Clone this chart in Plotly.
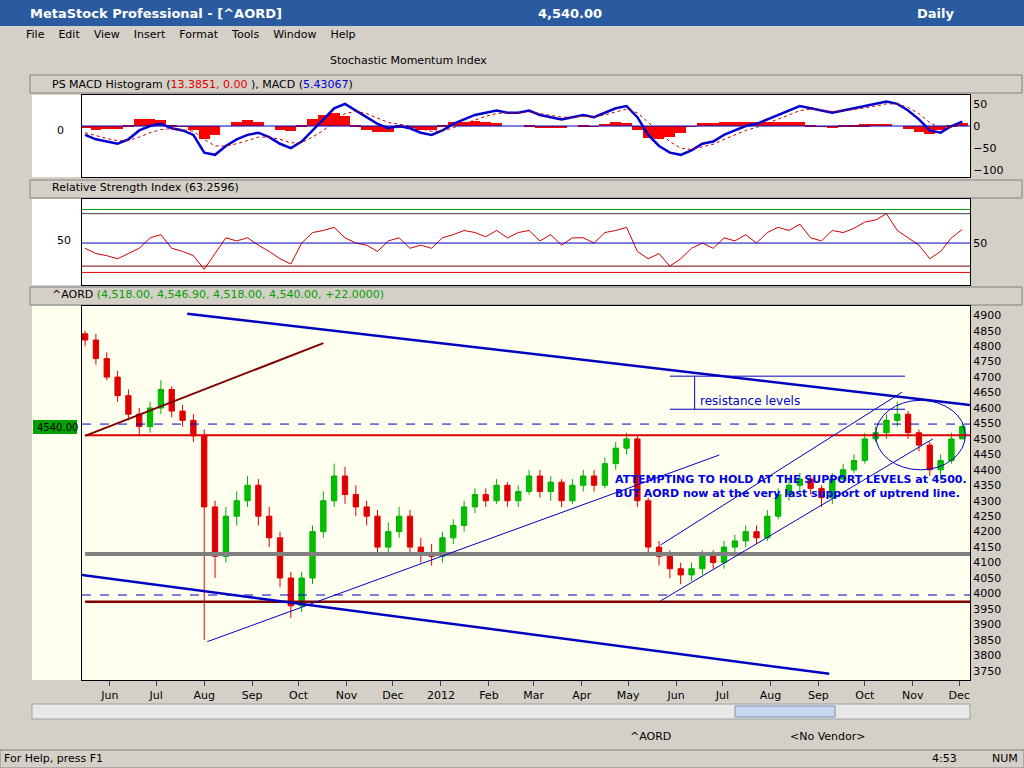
import plotly.graph_objects as go
import pandas as pd

# weekly bars, ^AORD, May 2011 - Dec 2012
weeks = pd.date_range('2011-05-16', periods=82, freq='7D')

opens = [4840, 4820, 4760, 4700, 4640, 4580, 4540, 4600, 4660, 4590, 4560,
         4510, 4280, 4120, 4250, 4300, 4350, 4250, 4180, 4050, 3960, 4050, 4200, 4300, 4380,
         4320, 4280, 4250, 4150, 4200, 4250, 4150, 4130, 4120, 4180, 4220, 4280, 4320,
         4300, 4350, 4300, 4330, 4380, 4330, 4360, 4300, 4350, 4380, 4350, 4420, 4470,
         4500, 4300, 4150, 4120, 4080, 4060, 4080, 4120, 4100, 4150, 4170, 4200, 4180,
         4250, 4320, 4350, 4370, 4340, 4310, 4370, 4400, 4430, 4500, 4520, 4560, 4580,
         4520, 4480, 4400, 4430, 4500]
highs = [4850, 4840, 4780, 4720, 4660, 4600, 4620, 4690, 4670, 4610, 4580,
         4530, 4300, 4280, 4330, 4380, 4370, 4280, 4200, 4070, 4070, 4220, 4330, 4420, 4410,
         4350, 4300, 4270, 4230, 4280, 4270, 4180, 4160, 4200, 4240, 4300, 4340, 4340,
         4370, 4360, 4350, 4400, 4400, 4380, 4370, 4370, 4400, 4400, 4440, 4490, 4520,
         4510, 4310, 4170, 4140, 4100, 4100, 4140, 4140, 4170, 4190, 4220, 4220, 4270,
         4340, 4370, 4390, 4380, 4350, 4390, 4420, 4450, 4520, 4540, 4580, 4620, 4590,
         4530, 4490, 4450, 4520, 4550]
lows = [4800, 4740, 4690, 4620, 4560, 4510, 4520, 4580, 4570, 4540, 4490,
        3850, 4050, 4100, 4220, 4280, 4220, 4150, 4020, 3920, 3940, 4030, 4180, 4280, 4290,
        4250, 4220, 4130, 4130, 4180, 4130, 4100, 4090, 4100, 4160, 4200, 4260, 4280,
        4290, 4280, 4280, 4320, 4310, 4300, 4280, 4290, 4330, 4330, 4340, 4400, 4450,
        4280, 4130, 4090, 4050, 4030, 4040, 4060, 4080, 4080, 4130, 4150, 4160, 4170,
        4240, 4300, 4330, 4320, 4280, 4290, 4360, 4390, 4420, 4490, 4500, 4540, 4500,
        4460, 4380, 4370, 4420, 4500]
closes = [4820, 4760, 4700, 4640, 4580, 4540, 4600, 4660, 4590, 4560, 4510,
          4280, 4120, 4250, 4300, 4350, 4250, 4180, 4050, 3960, 4050, 4200, 4300, 4380, 4320,
          4280, 4250, 4150, 4200, 4250, 4150, 4130, 4120, 4180, 4220, 4280, 4320, 4300,
          4350, 4300, 4330, 4380, 4330, 4360, 4300, 4350, 4380, 4350, 4420, 4470, 4500,
          4300, 4150, 4120, 4080, 4060, 4080, 4120, 4100, 4150, 4170, 4200, 4180, 4250,
          4320, 4350, 4370, 4340, 4310, 4370, 4400, 4430, 4500, 4520, 4560, 4580, 4520,
          4480, 4400, 4430, 4500, 4540]

macd = [-20, -30, -35, -40, -30, -10, 0, 5, -5, -10, -20, -60, -65, -45, -30, -20,
        -15, -25, -40, -50, -35, -10, 15, 40, 50, 35, 20, 5, -5, 0, -5, -15, -20,
        -10, 5, 15, 25, 30, 35, 30, 30, 35, 25, 20, 15, 20, 25, 20, 30, 40, 45,
        20, -20, -45, -60, -65, -55, -40, -35, -20, -10, 0, 5, 15, 25, 35, 45, 40,
        35, 30, 35, 40, 45, 50, 55, 50, 35, 15, -10, -15, 0, 10]
signal = [-15, -22, -28, -33, -33, -25, -15, -8, -6, -8, -12, -30, -45, -45, -40, -33,
          -25, -25, -30, -38, -37, -25, -10, 10, 28, 33, 28, 18, 8, 4, 0, -6, -12,
          -11, -4, 5, 13, 22, 28, 30, 30, 32, 28, 24, 20, 20, 22, 21, 25, 32, 38,
          30, 8, -15, -35, -50, -53, -47, -41, -30, -20, -10, -3, 6, 15, 25, 35, 38,
          36, 33, 34, 37, 41, 45, 50, 50, 42, 28, 8, -5, -3, 4]
hist = [-5, -8, -7, -7, 3, 15, 15, 13, 1, -2, -8, -30, -20, 0, 10, 13,
        10, 0, -10, -12, 2, 15, 25, 30, 22, 2, -8, -13, -13, -4, -5, -9, -8,
        1, 9, 10, 12, 8, 7, 0, 0, 3, -3, -4, -5, 0, 3, -1, 5, 8, 7,
        -10, -28, -30, -25, -15, -2, 7, 6, 10, 10, 10, 8, 9, 10, 10, 10, 2,
        -1, -3, 1, 3, 4, 5, 5, 0, -7, -13, -18, -10, 3, 6]
rsi = [45, 40, 38, 35, 40, 45, 55, 58, 45, 42, 38, 25, 40, 55, 52, 55,
       48, 42, 35, 30, 50, 60, 62, 65, 55, 50, 48, 42, 52, 55, 45, 48, 45,
       55, 58, 62, 60, 56, 62, 55, 60, 62, 52, 58, 48, 55, 55, 50, 60, 62, 65,
       42, 35, 40, 28, 35, 45, 50, 45, 55, 52, 58, 50, 60, 65, 62, 68, 55,
       52, 62, 60, 64, 70, 72, 78, 62, 55, 48, 35, 42, 55, 63]
rsi_levels = [82, 78, 50, 28, 22]
rsi_level_colors = ['#00a000', '#404040', '#0000c0', '#800000', '#e00000']

month_ticks = pd.date_range('2011-06-01', '2012-12-01', freq='MS')
month_labels = ['Jun', 'Jul', 'Aug', 'Sep', 'Oct', 'Nov', 'Dec', '2012', 'Feb', 'Mar', 'Apr',
                'May', 'Jun', 'Jul', 'Aug', 'Sep', 'Oct', 'Nov', 'Dec']

# user drawn trendlines: (date0, price0, date1, price1, colour, width)
trendlines = [
    ('2011-07-21', 4905, '2012-12-08', 4610, '#0000c0', 2.5),
    ('2011-05-14', 4060, '2012-09-08', 3740, '#0000c0', 2.5),
    ('2011-05-16', 4510, '2011-10-17', 4810, '#800000', 2),
    ('2011-08-03', 3844, '2012-06-29', 4448, '#0000c0', 1),
    ('2012-05-22', 3976, '2012-11-14', 4500, '#0000c0', 1),
    ('2012-05-22', 4157, '2012-10-25', 4651, '#0000c0', 1),
    ('2012-05-28', 4703, '2012-10-27', 4703, '#0000c0', 1),
    ('2012-05-28', 4596, '2012-10-27', 4596, '#0000c0', 1),
    ('2012-06-13', 4703, '2012-06-13', 4596, '#0000c0', 1),
]
hlines = [(4512, '#e00000', 2), (4128, '#808080', 4), (3973, '#800000', 2.5)]
dotted = [4548, 3995]

W, H = 1024, 768


def px(x, y):
    return x / W, 1 - y / H


fig = go.Figure()
fig.add_trace(go.Bar(x=weeks, y=hist, marker_color='#ff0000', marker_line_width=0,
                     xaxis='x', yaxis='y'))
fig.add_trace(go.Scatter(x=weeks, y=macd, mode='lines', line=dict(color='#0000d0', width=2.5),
                         xaxis='x', yaxis='y'))
fig.add_trace(go.Scatter(x=weeks, y=signal, mode='lines', line=dict(color='#c00000', width=1, dash='dot'),
                         xaxis='x', yaxis='y'))
fig.add_trace(go.Scatter(x=weeks, y=rsi, mode='lines', line=dict(color='#d00000', width=1),
                         xaxis='x2', yaxis='y2'))
fig.add_trace(go.Candlestick(x=weeks, open=opens, high=highs, low=lows, close=closes,
                             increasing=dict(line=dict(color='#00b000', width=1), fillcolor='#00c000'),
                             decreasing=dict(line=dict(color='#e00000', width=1), fillcolor='#e00000'),
                             xaxis='x3', yaxis='y3'))

xr = ['2011-05-14', '2012-12-08']
x0, _ = px(82, 0)
x1, _ = px(970, 0)
common_x = dict(range=xr, showgrid=False, zeroline=False, showticklabels=False,
                domain=[x0, x1], showline=True, linecolor='black', mirror=True)
fig.update_layout(
    width=W, height=H, margin=dict(l=0, r=0, t=0, b=0),
    paper_bgcolor='#d4d0c8', plot_bgcolor='white', showlegend=False, bargap=0,
    font=dict(family='DejaVu Sans', size=11, color='black'),
    xaxis=dict(**common_x, anchor='y'),
    xaxis2=dict(**common_x, anchor='y2'),
    xaxis3=dict(**{**common_x, 'showticklabels': True}, anchor='y3', rangeslider=dict(visible=False),
                tickvals=month_ticks, ticktext=month_labels, ticks='outside', tickfont=dict(size=11)),
    yaxis=dict(domain=[px(0, 177)[1], px(0, 95)[1]], range=[-115, 70], side='right',
               tickvals=[50, 0, -50, -100], showgrid=False, zeroline=False,
               showline=True, linecolor='black', mirror=True),
    yaxis2=dict(domain=[px(0, 285)[1], px(0, 199)[1]], range=[10, 92], side='right',
                tickvals=[50], showgrid=False, zeroline=False,
                showline=True, linecolor='black', mirror=True),
    yaxis3=dict(domain=[px(0, 680)[1], px(0, 306)[1]], range=[3720, 4930], side='right',
                tickvals=list(range(3750, 4901, 50)), showgrid=False, zeroline=False,
                showline=True, linecolor='black', mirror=True, tickfont=dict(size=11)),
)

shapes = []
# price panel background
shapes.append(dict(type='rect', xref='x3 domain', yref='y3 domain', x0=0, x1=1, y0=0, y1=1,
                   fillcolor='#fffff0', line_width=0, layer='below'))
shapes.append(dict(type='line', xref='x domain', yref='y', x0=0, x1=1, y0=0, y1=0,
                   line=dict(color='#0000c0', width=1)))
for lv, col in zip(rsi_levels, rsi_level_colors):
    shapes.append(dict(type='line', xref='x2 domain', yref='y2', x0=0, x1=1, y0=lv, y1=lv,
                       line=dict(color=col, width=1)))
for lv, col, w in hlines:
    shapes.append(dict(type='line', xref='x3', yref='y3', x0='2011-05-16', x1=xr[1], y0=lv, y1=lv,
                       line=dict(color=col, width=w)))
for lv in dotted:
    shapes.append(dict(type='line', xref='x3 domain', yref='y3', x0=0, x1=1, y0=lv, y1=lv,
                       line=dict(color='#0000c0', width=1, dash='dash')))
for d0, p0, d1, p1, col, w in trendlines:
    shapes.append(dict(type='line', xref='x3', yref='y3', x0=d0, y0=p0, x1=d1, y1=p1,
                       line=dict(color=col, width=w)))
shapes.append(dict(type='circle', xref='x3', yref='y3', x0='2012-10-08', x1='2012-12-05',
                   y0=4400, y1=4625, line=dict(color='#0000c0', width=1)))


# window chrome (pixel boxes)
def box(x_a, y_a, x_b, y_b, fill, line='rgba(0,0,0,0)'):
    a = px(x_a, y_a)
    b = px(x_b, y_b)
    shapes.append(dict(type='rect', xref='paper', yref='paper', x0=a[0], y0=b[1], x1=b[0], y1=a[1],
                       fillcolor=fill, line=dict(color=line, width=1), layer='below'))


box(0, 0, 1024, 26, '#2a5aa0')
box(30, 75, 1022, 93, '#d4d0c8', '#808080')
box(30, 180, 1022, 198, '#d4d0c8', '#808080')
box(30, 287, 1022, 305, '#d4d0c8', '#808080')
box(32, 95, 82, 177, 'white')
box(32, 199, 82, 285, 'white')
box(32, 306, 82, 680, '#fffff0')
box(32, 704, 970, 719, '#e8e8e8', '#a0a0a0')
box(735, 706, 835, 717, '#c8d8f0', '#8090b0')
box(0, 750, 1024, 768, '#d4d0c8', '#808080')
box(33, 420, 77, 434, '#00a000')
fig.update_layout(shapes=shapes)

ann = []


def text(x, y, s, color='black', size=11, anchor='left', bold=False, bg=None):
    a, b = px(x, y)
    ann.append(dict(xref='paper', yref='paper', x=a, y=b, text=('<b>%s</b>' % s) if bold else s,
                    showarrow=False, xanchor=anchor, yanchor='middle', align='left',
                    font=dict(color=color, size=size), bgcolor=bg))


text(28, 13, 'MetaStock Professional - [^AORD]', 'white', 13, bold=True)
text(570, 13, '4,540.00', 'white', 13, 'center', bold=True)
text(915, 13, 'Daily', 'white', 13, bold=True)
text(24, 35, 'File    Edit    View    Insert    Format    Tools    Window    Help')
text(328, 60, 'Stochastic Momentum Index')
text(50, 84, 'PS MACD Histogram (<span style="color:#e00000">13.3851, 0.00</span> ), MACD (<span style="color:#0000d0">5.43067</span>)')
text(50, 188, 'Relative Strength Index (63.2596)')
text(50, 295, '^AORD <span style="color:#00a000">(4,518.00, 4,546.90, 4,518.00, 4,540.00, +22.0000)</span>')
text(35, 427, '4540.00', 'black', 10)
text(55, 131, '0')
text(55, 240, '50')
text(698, 401, 'resistance levels', '#0000c0', 12)
text(613, 486, 'ATTEMPTING TO HOLD AT THE SUPPORT LEVELS at 4500.<br>BUT AORD now at the very last support of uptrend line.',
     '#0000e0', 11, bold=True)
text(628, 736, '^AORD')
text(788, 736, '<No Vendor>')
text(2, 758, 'For Help, press F1')
text(930, 758, '4:53')
text(990, 758, 'NUM')
fig.update_layout(annotations=ann)

fig.write_html("out.html", config={'displayModeBar': False},
               post_script="document.body.style.margin='0';document.body.style.overflow='hidden';")
